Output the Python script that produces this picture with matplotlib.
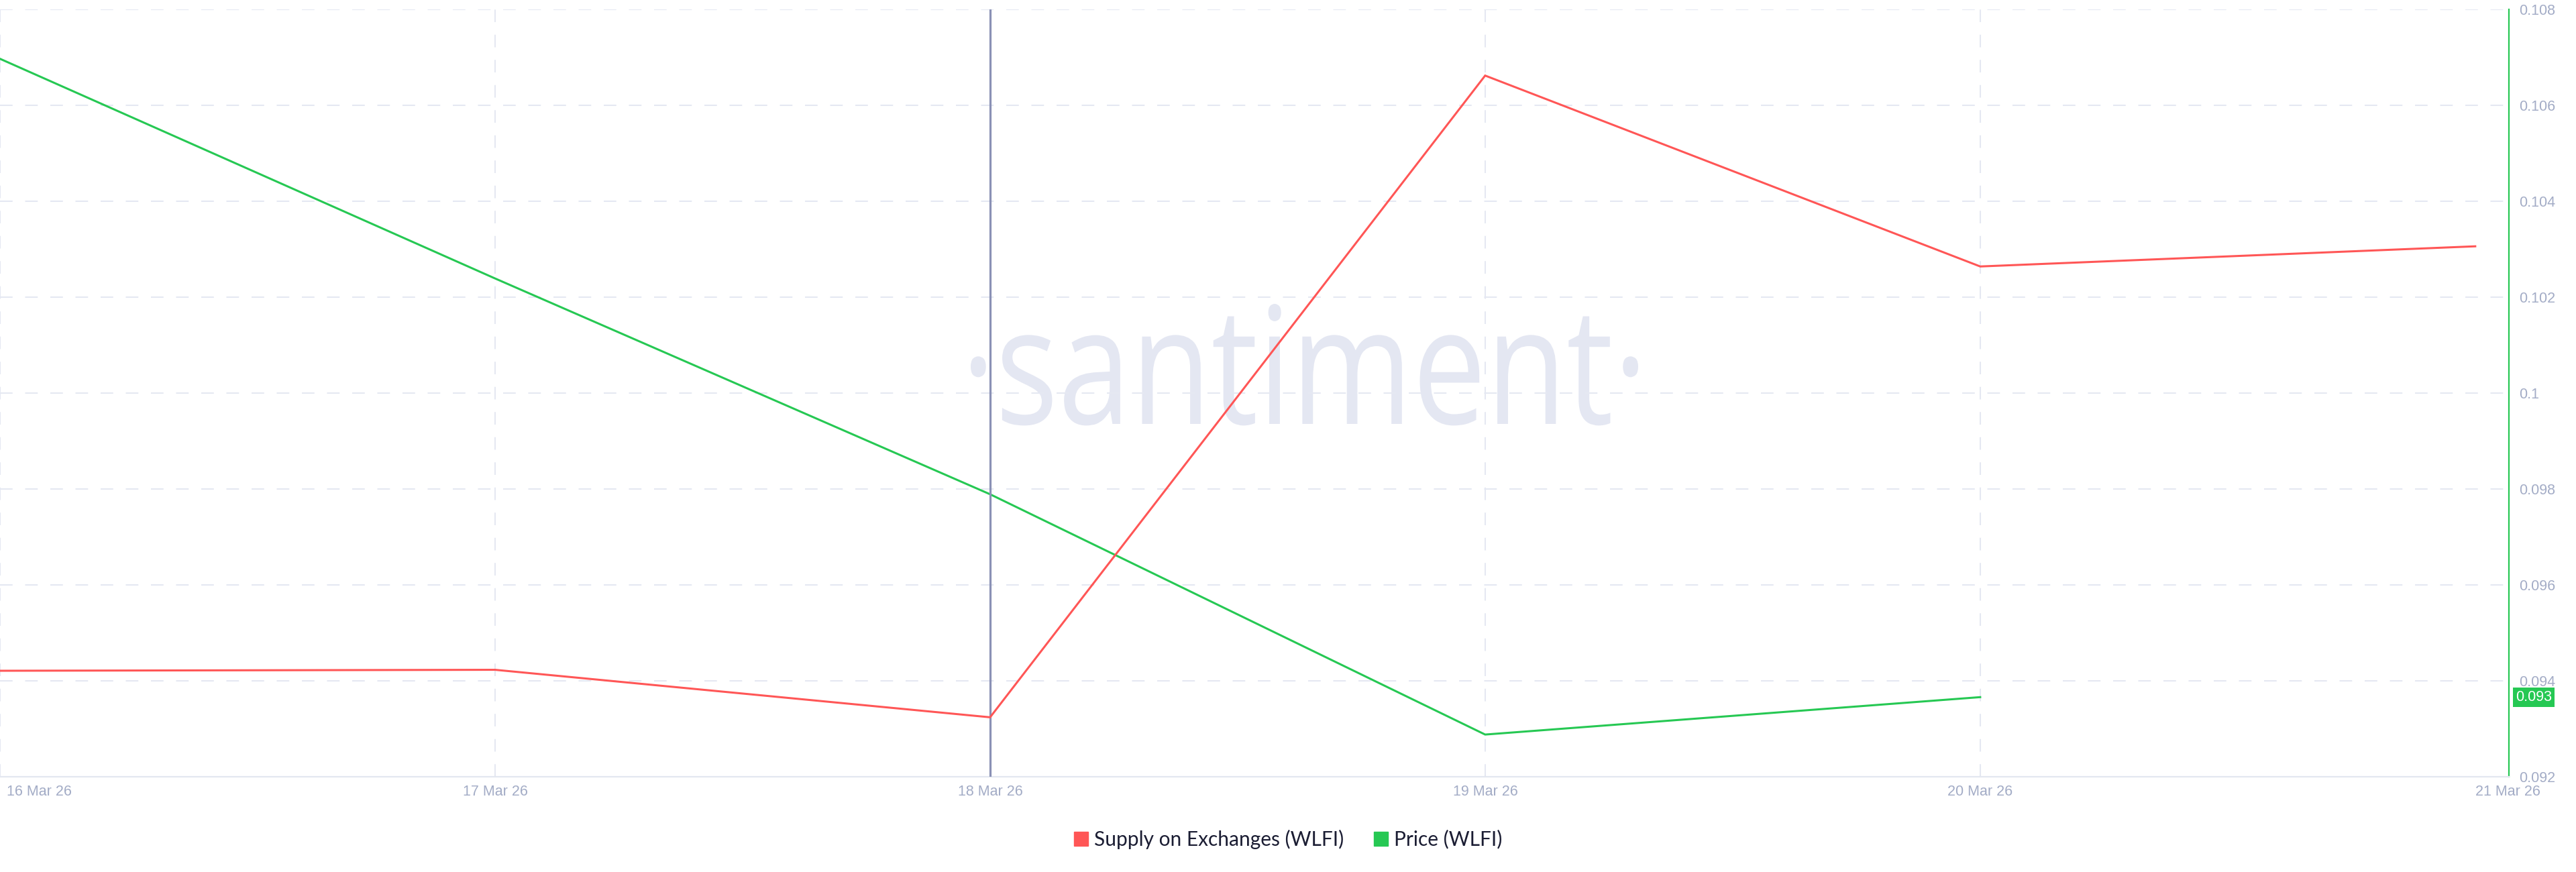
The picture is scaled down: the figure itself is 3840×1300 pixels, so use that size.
import matplotlib
matplotlib.use("Agg")
import matplotlib.pyplot as plt
import matplotlib.transforms as mtransforms
from matplotlib.patches import Patch, PathPatch
from matplotlib.textpath import TextPath
from matplotlib.font_manager import FontProperties
from datetime import datetime, timedelta

# data ==========================================================
dates = [datetime(2026, 3, d) for d in range(16, 22)]
date_labels = ["16 Mar 26", "17 Mar 26", "18 Mar 26", "19 Mar 26", "20 Mar 26", "21 Mar 26"]
supply = [4.6021, 4.6023, 4.5924, 4.7262, 4.6864, 4.6906]   # supply on exchanges, bn WLFI (left axis hidden)
price = [0.10697, 0.10239, 0.09789, 0.09288, 0.09366]       # price USD, 16-20 Mar
price_ticks = [0.092, 0.094, 0.096, 0.098, 0.1, 0.102, 0.104, 0.106, 0.108]
marked_day = datetime(2026, 3, 18)

red = "#ff5656"
green = "#26c853"
grid_c = "#e5e8f2"
tick_c = "#a3acc6"

fig = plt.figure(figsize=(38.4, 13), dpi=100)
ax = fig.add_axes([0.0, 1 - 1158 / 1300, 3740 / 3840, 1144 / 1300])
ax.patch.set_visible(False)
ax2 = ax.twinx()

# price on right axis
ax.plot(dates[:len(price)], price, color=green, lw=2.2, zorder=3, solid_joinstyle="miter")
ax.set_ylim(0.092, 0.108)
ax.set_xlim(dates[0], dates[-1] + timedelta(days=0.068))
ax.yaxis.tick_right()
ax.set_yticks(price_ticks)
ax.set_yticklabels([f"{v:g}" for v in price_ticks])
ax.tick_params(axis="y", length=0, pad=11, labelsize=15.5, labelcolor=tick_c)
ax.set_xticks(dates)
ax.set_xticklabels(date_labels)
ax.tick_params(axis="x", length=0, pad=9, labelsize=15.5, labelcolor=tick_c)
for lab in ax.get_xticklabels() + ax.get_yticklabels():
    lab.set_fontfamily("Liberation Sans")
xl = ax.get_xticklabels()
xl[0].set_ha("left")
xl[0].set_transform(xl[0].get_transform() + mtransforms.ScaledTranslation(0.1, 0, fig.dpi_scale_trans))
xl[-1].set_ha("left")

# grid
for v in price_ticks[1:]:
    ax.axhline(v, color=grid_c, lw=1.5, dashes=(9, 9), zorder=1)
for d in dates[:5]:
    if d != marked_day:
        ax.axvline(d, color=grid_c, lw=1.5, dashes=(9, 9), zorder=1)
ax.axvline(marked_day, color="#8a91b5", lw=2.3, zorder=4)

for s in ["top", "left"]:
    ax.spines[s].set_visible(False)
ax.spines["bottom"].set_color("#e3e7f0")
ax.spines["bottom"].set_linewidth(1.6)
ax.spines["right"].set_color(green)
ax.spines["right"].set_linewidth(1.6)

# supply on hidden axis
ax2.plot(dates, supply, color=red, lw=2.2, zorder=3, solid_joinstyle="miter")
ax2.set_ylim(4.58, 4.74)
ax2.set_yticks([])
for s in ax2.spines.values():
    s.set_visible(False)

# last price label
ax.text(1.0 + 10 / 3740, price[-1], f"{int(price[-1] * 1000) / 1000:.3f}", transform=ax.get_yaxis_transform(),
        ha="left", va="center", color="white", fontsize=15.5, family="Liberation Sans",
        bbox=dict(boxstyle="square,pad=0.2", fc=green, ec="none"), zorder=6, clip_on=False)

# watermark (condensed text path, in pixels)
tp = TextPath((0, 0), "·santiment·", size=100, prop=FontProperties(family="Open Sans", weight="normal"))
ext = tp.get_extents()
sx = (2442 - 1447) / ext.width
sy = (847 - 668) / ext.y1
wm_trans = mtransforms.Affine2D().translate(-ext.x0, 0).scale(sx, sy).translate(1447, 668)
fig.add_artist(PathPatch(tp, transform=wm_trans, fc="#e4e7f2", ec="none", zorder=0))

# legend
handles = [Patch(color=red, label="Supply on Exchanges (WLFI)"), Patch(color=green, label="Price (WLFI)")]
fig.legend(handles=handles, loc="center", bbox_to_anchor=(0.5, 1 - 1251 / 1300), ncol=2, frameon=False,
           handlelength=0.7, handleheight=0.7, handletextpad=0.3, columnspacing=1.5,
           labelcolor="#1b1d33", prop={"family": "Lato", "size": 21.5})

fig.savefig("out.png", dpi=100)
